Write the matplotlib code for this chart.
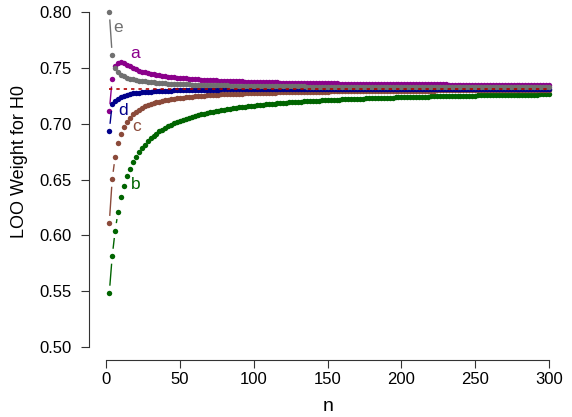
import matplotlib
matplotlib.use("Agg")
import matplotlib.pyplot as plt
import numpy as np
from matplotlib.collections import LineCollection

plt.rcParams['font.family'] = ['Liberation Sans', 'DejaVu Sans']
plt.rcParams['lines.scale_dashes'] = False

# sample sizes (every second n)
n_vals = list(range(2, 301, 2))

series_names = ['a', 'b', 'c', 'd', 'e']

a_vals = [
    .7110, .7400, .7515, .7540, .7548, .7540, .7526, .7512, .7499, .7487,
    .7476, .7466, .7459, .7453, .7447, .7442, .7437, .7433, .7429, .7425,
    .7421, .7418, .7415, .7412, .7410, .7407, .7405, .7403, .7401, .7399,
    .7397, .7395, .7393, .7392, .7390, .7389, .7388, .7386, .7385, .7384,
    .7383, .7382, .7381, .7380, .7379, .7378, .7377, .7376, .7375, .7374,
    .7374, .7373, .7372, .7371, .7371, .7370, .7369, .7369, .7368, .7368,
    .7367, .7367, .7366, .7366, .7365, .7365, .7364, .7364, .7363, .7363,
    .7362, .7362, .7361, .7361, .7361, .7360, .7360, .7360, .7359, .7359,
    .7359, .7358, .7358, .7358, .7357, .7357, .7357, .7356, .7356, .7356,
    .7356, .7355, .7355, .7355, .7355, .7354, .7354, .7354, .7354, .7354,
    .7353, .7353, .7353, .7353, .7352, .7352, .7352, .7352, .7352, .7351,
    .7351, .7351, .7351, .7351, .7351, .7350, .7350, .7350, .7350, .7350,
    .7350, .7349, .7349, .7349, .7349, .7349, .7349, .7349, .7348, .7348,
    .7348, .7348, .7348, .7348, .7348, .7348, .7348, .7348, .7348, .7347,
    .7347, .7347, .7347, .7347, .7347, .7347, .7346, .7346, .7346, .7346,
]

b_vals = [
    .5482, .5813, .6043, .6212, .6341, .6444, .6527, .6595, .6653, .6702,
    .6744, .6781, .6813, .6842, .6868, .6891, .6911, .6930, .6947, .6963,
    .6977, .6991, .7003, .7014, .7025, .7035, .7044, .7053, .7061, .7069,
    .7076, .7083, .7089, .7095, .7101, .7106, .7111, .7116, .7121, .7126,
    .7130, .7134, .7138, .7142, .7145, .7149, .7152, .7155, .7158, .7161,
    .7164, .7167, .7170, .7172, .7175, .7177, .7179, .7182, .7184, .7186,
    .7188, .7190, .7192, .7194, .7195, .7197, .7199, .7201, .7202, .7204,
    .7205, .7207, .7208, .7210, .7211, .7212, .7214, .7215, .7216, .7217,
    .7218, .7220, .7221, .7222, .7223, .7224, .7225, .7226, .7227, .7228,
    .7229, .7230, .7231, .7232, .7232, .7233, .7234, .7235, .7236, .7237,
    .7237, .7238, .7239, .7240, .7240, .7241, .7242, .7242, .7243, .7244,
    .7244, .7245, .7245, .7246, .7247, .7247, .7248, .7248, .7249, .7250,
    .7250, .7251, .7251, .7252, .7252, .7253, .7253, .7254, .7254, .7255,
    .7255, .7256, .7256, .7256, .7257, .7257, .7258, .7258, .7259, .7259,
    .7259, .7260, .7260, .7261, .7261, .7261, .7262, .7262, .7262, .7263,
]

c_vals = [
    .6107, .6502, .6704, .6824, .6907, .6972, .7019, .7055, .7083, .7106,
    .7125, .7140, .7154, .7165, .7175, .7184, .7191, .7198, .7204, .7210,
    .7215, .7220, .7224, .7228, .7231, .7234, .7237, .7240, .7243, .7245,
    .7248, .7250, .7252, .7254, .7255, .7257, .7259, .7260, .7262, .7263,
    .7264, .7266, .7267, .7268, .7269, .7270, .7271, .7272, .7273, .7274,
    .7275, .7275, .7276, .7277, .7278, .7278, .7279, .7280, .7280, .7281,
    .7282, .7282, .7283, .7283, .7284, .7284, .7285, .7285, .7286, .7286,
    .7287, .7287, .7287, .7288, .7288, .7289, .7289, .7289, .7290, .7290,
    .7290, .7291, .7291, .7291, .7292, .7292, .7292, .7292, .7293, .7293,
    .7293, .7293, .7294, .7294, .7294, .7294, .7295, .7295, .7295, .7295,
    .7296, .7296, .7296, .7296, .7296, .7297, .7297, .7297, .7297, .7297,
    .7297, .7298, .7298, .7298, .7298, .7298, .7298, .7299, .7299, .7299,
    .7299, .7299, .7299, .7300, .7300, .7300, .7300, .7300, .7300, .7300,
    .7300, .7301, .7301, .7301, .7301, .7301, .7301, .7301, .7301, .7302,
    .7302, .7302, .7302, .7302, .7302, .7302, .7302, .7302, .7302, .7303,
]

d_vals = [
    .6932, .7180, .7201, .7224, .7240, .7251, .7260, .7266, .7271, .7275,
    .7279, .7282, .7284, .7287, .7288, .7290, .7292, .7293, .7294, .7295,
    .7296, .7297, .7298, .7299, .7300, .7300, .7301, .7301, .7302, .7302,
    .7303, .7303, .7304, .7304, .7304, .7305, .7305, .7305, .7306, .7306,
    .7306, .7306, .7307, .7307, .7307, .7307, .7308, .7308, .7308, .7308,
    .7308, .7308, .7309, .7309, .7309, .7309, .7309, .7309, .7309, .7309,
    .7310, .7310, .7310, .7310, .7310, .7310, .7310, .7310, .7311, .7311,
    .7311, .7311, .7311, .7311, .7311, .7311, .7311, .7311, .7311, .7311,
    .7312, .7312, .7312, .7312, .7312, .7312, .7312, .7312, .7312, .7312,
    .7312, .7312, .7312, .7312, .7312, .7312, .7312, .7312, .7312, .7312,
    .7313, .7313, .7313, .7313, .7313, .7313, .7313, .7313, .7313, .7313,
    .7313, .7313, .7313, .7313, .7313, .7313, .7313, .7313, .7313, .7313,
    .7313, .7313, .7313, .7313, .7313, .7313, .7313, .7313, .7313, .7313,
    .7314, .7314, .7314, .7314, .7314, .7314, .7314, .7314, .7314, .7314,
    .7314, .7314, .7314, .7314, .7314, .7314, .7314, .7314, .7314, .7314,
]

e_vals = [
    .8000, .7612, .7497, .7460, .7439, .7424, .7413, .7404, .7397, .7391,
    .7386, .7382, .7378, .7375, .7372, .7369, .7367, .7365, .7363, .7361,
    .7359, .7358, .7356, .7355, .7354, .7353, .7352, .7351, .7350, .7349,
    .7348, .7347, .7347, .7346, .7345, .7345, .7344, .7343, .7343, .7342,
    .7342, .7341, .7341, .7340, .7340, .7339, .7339, .7339, .7338, .7338,
    .7338, .7337, .7337, .7336, .7336, .7336, .7335, .7335, .7335, .7334,
    .7334, .7334, .7334, .7333, .7333, .7333, .7333, .7332, .7332, .7332,
    .7332, .7332, .7331, .7331, .7331, .7331, .7331, .7330, .7330, .7330,
    .7330, .7330, .7330, .7329, .7329, .7329, .7329, .7329, .7329, .7329,
    .7329, .7328, .7328, .7328, .7328, .7328, .7328, .7328, .7328, .7328,
    .7327, .7327, .7327, .7327, .7327, .7327, .7327, .7327, .7327, .7327,
    .7326, .7326, .7326, .7326, .7326, .7326, .7326, .7326, .7326, .7326,
    .7326, .7326, .7326, .7325, .7325, .7325, .7325, .7325, .7325, .7325,
    .7325, .7325, .7325, .7325, .7325, .7325, .7325, .7325, .7325, .7325,
    .7324, .7324, .7324, .7324, .7324, .7324, .7324, .7324, .7324, .7324,
]

ref_x = [2, 300]
ref_level = 0.7313

label_x = [19.4, 19.9, 20.5, 11.2, 8.1]
label_y = [0.7592, 0.6412, 0.6934, 0.7078, 0.7823]

x_ticks = [0, 50, 100, 150, 200, 250, 300]
y_ticks = [0.50, 0.55, 0.60, 0.65, 0.70, 0.75, 0.80]

colors = ['#8B008B', '#006400', '#8B4A3A', '#00008B', '#707070']

W, H = 572, 417
fig = plt.figure(figsize=(W / 100, H / 100), dpi=100)
ax = fig.add_axes([88.6 / W, (H - 360.4) / H, 478.1 / W, 361.8 / H])
ax.set_xlim(-12, 312)
ax.set_ylim(0.488, 0.812)

for s in ['top', 'right']:
    ax.spines[s].set_visible(False)
ax.spines['left'].set_bounds(0.5, 0.8)
ax.spines['bottom'].set_bounds(0, 300)
for s in ['left', 'bottom']:
    ax.spines[s].set_linewidth(0.8)
    ax.spines[s].set_color('#333333')

ax.set_xticks(x_ticks)
ax.set_xticklabels([str(t) for t in x_ticks])
ax.set_yticks(y_ticks)
ax.set_yticklabels(['%.2f' % t for t in y_ticks])
ax.tick_params(axis='both', direction='out', length=5.5, width=0.8,
               color='#333333', labelsize=12)
ax.tick_params(axis='x', pad=2.5)
ax.tick_params(axis='y', pad=7)

T = ax.transData
Tinv = T.inverted()
gap = 7.5  # pixels, type="b" style gaps around points

all_vals = [a_vals, b_vals, c_vals, d_vals, e_vals]
for vals, col in zip(all_vals, colors):
    P = T.transform(np.column_stack([n_vals, vals]))
    segs = []
    for p, q in zip(P[:-1], P[1:]):
        dvec = q - p
        L = np.hypot(dvec[0], dvec[1])
        if L > 2 * gap:
            u = dvec / L
            segs.append(Tinv.transform(np.array([p + u * gap, q - u * gap])))
    if segs:
        ax.add_collection(LineCollection(segs, colors=col, linewidths=1.0))
    ax.plot(n_vals, vals, linestyle='none', marker='o', ms=3.9, mew=0,
            color=col, clip_on=False)

ax.plot(ref_x, [ref_level, ref_level], color='#B00000', lw=1.2,
        dashes=(2.4, 2.9))

for name, lx, ly, col in zip(series_names, label_x, label_y, colors):
    ax.text(lx, ly, name, color=col, fontsize=12.5, ha='center', va='baseline')

fig.text(328.4 / W, 1 - 411 / H, 'n', ha='center', va='baseline', fontsize=14)
fig.text(19.5 / W, 1 - 161 / H, 'LOO Weight for H0', rotation=90,
         ha='center', va='center', fontsize=13)

fig.savefig('out.png', dpi=100)
